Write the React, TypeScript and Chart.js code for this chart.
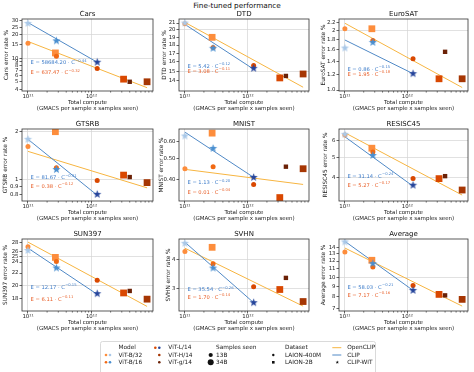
import React, { useEffect, useRef } from "react";
import { Chart, registerables } from "chart.js";
Chart.register(...registerables);

const FONT = '"DejaVu Sans", sans-serif';

// ---------------- data ----------------
const panelNames = ["Cars", "DTD", "EuroSAT", "GTSRB", "MNIST", "RESISC45", "SUN397", "SVHN", "Average"];

// OpenCLIP runs (order of points in every panel)
const openclipModels = ["ViT-B/32", "ViT-B/32", "ViT-B/16", "ViT-L/14", "ViT-L/14", "ViT-g/14", "ViT-H/14"];
const openclipDatasets = ["LAION-400M", "LAION-2B", "LAION-400M", "LAION-400M", "LAION-2B", "LAION-2B", "LAION-2B"];
const openclipSamples = ["13B", "34B", "13B", "13B", "34B", "13B", "34B"];
const openclipCompute = [1.0e11, 2.7e11, 2.8e11, 1.23e12, 3.2e12, 4.0e12, 7.5e12];
// CLIP-WIT runs
const clipModels = ["ViT-B/32", "ViT-B/16", "ViT-L/14"];
const clipCompute = [1.0e11, 2.8e11, 1.23e12];

const carsOpenclip = [15.6, 11.7, 10.6, 7.4, 5.4, 5.0, 5.0];
const carsClip = [28, 16.7, 8.9];
const dtdOpenclip = [20.9, 19.0, 17.7, 15.6, 14.3, 14.5, 14.7];
const dtdClip = [21.0, 17.6, 15.3];
const eurosatOpenclip = [2.04, 2.04, 1.78, 1.44, 1.14, 1.56, 1.14];
const eurosatClip = [1.63, 1.74, 1.21];
const gtsrbOpenclip = [1.61, 2.0, 1.18, 0.98, 1.06, 1.03, 0.95];
const gtsrbClip = [1.79, 1.15, 0.8];
const mnistOpenclip = [0.45, 0.66, 0.46, 0.38, 0.33, 0.46, 0.45];
const mnistClip = [0.64, 0.56, 0.41];
const resiscOpenclip = [6.4, 5.53, 5.3, 3.94, 3.94, 4.05, 3.47];
const resiscClip = [6.46, 5.1, 3.66];
const sunOpenclip = [27.1, 24.9, 24.1, 20.8, 18.8, 19.1, 17.9];
const sunClip = [26.3, 22.9, 18.7];
const svhnOpenclip = [4.35, 4.54, 3.84, 3.04, 2.96, 3.33, 2.62];
const svhnClip = [4.73, 3.68, 2.59];
const avgOpenclip = [13.3, 12.1, 11.2, 9.1, 8.22, 8.13, 7.77];
const avgClip = [14.9, 11.65, 8.6];

const openclipErrors = [carsOpenclip, dtdOpenclip, eurosatOpenclip, gtsrbOpenclip, mnistOpenclip, resiscOpenclip, sunOpenclip, svhnOpenclip, avgOpenclip];
const clipErrors = [carsClip, dtdClip, eurosatClip, gtsrbClip, mnistClip, resiscClip, sunClip, svhnClip, avgClip];

// fitted power laws, read at the two ends of each fitted line
const fitComputeOpenclip = [1.0e11, 7.5e12];
const fitComputeClip = [1.0e11, 1.23e12];
const openclipFit = [[16.4, 4.2], [21.1, 13.4], [2.175, 1.03], [1.5, 0.88], [0.447, 0.38], [6.57, 3.28], [28.1, 16.9], [4.5, 2.5], [13.9, 7.2]];
const clipFit = [[28.6, 8.9], [20.8, 15.2], [1.79, 1.21], [1.79, 0.79], [0.667, 0.41], [6.28, 3.62], [26.8, 18.6], [4.78, 2.59], [15.0, 8.6]];

const clipEquations = [
  ["E = 58684.20 · C", "−0.44"], ["E = 5.42 · C", "−0.12"], ["E = 0.86 · C", "−0.15"],
  ["E = 81.67 · C", "−0.31"], ["E = 1.13 · C", "−0.20"], ["E = 31.14 · C", "−0.24"],
  ["E = 12.17 · C", "−0.15"], ["E = 35.54 · C", "−0.26"], ["E = 58.03 · C", "−0.21"],
];
const openclipEquations = [
  ["E = 637.47 · C", "−0.32"], ["E = 3.08 · C", "−0.11"], ["E = 1.95 · C", "−0.18"],
  ["E = 0.38 · C", "−0.12"], ["E = 0.01 · C", "−0.04"], ["E = 5.27 · C", "−0.17"],
  ["E = 6.11 · C", "−0.11"], ["E = 1.70 · C", "−0.14"], ["E = 7.17 · C", "−0.16"],
];

// axes
const yRanges = [[3.81, 31.8], [13.05, 21.6], [0.989, 2.285], [0.726, 2.08], [0.318, 0.69], [3.07, 6.85], [16.3, 28.8], [2.38, 4.94], [6.81, 15.4]];
const yTickValues = [
  [4, 5, 6, 7, 8, 9, 10, 15, 20, 25, 30],
  [14, 15, 16, 17, 18, 19, 20, 21],
  [1.0, 1.2, 1.4, 1.6, 1.8, 2, 2.2],
  [0.8, 0.9, 1, 2],
  [0.4, 0.5, 0.6],
  [4, 5, 6],
  [18, 20, 22, 24, 25, 26, 28],
  [3, 4],
  [7, 8, 9, 10, 11, 12, 13, 14],
];
const yTickLabels = [
  ["4", "5", "6", "7", "8", "9", "10", "15", "20", "25", "30"],
  ["14", "15", "16", "17", "18", "19", "20", "21"],
  ["1.0", "1.2", "1.4", "1.6", "1.8", "2", "2.2"],
  ["0.8", "0.9", "1", "2"],
  ["0.40", "0.50", "0.60"],
  ["4", "5", "6"],
  ["18", "20", "22", "24", "25", "26", "28"],
  ["3", "4"],
  ["7", "8", "9", "10", "11", "12", "13", "14"],
];
const yGridValues = [[10, 20], [15, 20], [1, 2], [1, 2], [], [4, 5, 6], [20, 25], [3, 4], [10]];
const xRange = [8.05e10, 9.3e12];
const xMajorTicks = [1e11, 1e12];
const xTickLabels = ["10¹¹", "10¹²"];
const xMinorTicks = [2e11, 3e11, 4e11, 5e11, 6e11, 7e11, 8e11, 9e11, 2e12, 3e12, 4e12, 5e12, 6e12, 7e12, 8e12, 9e12];

// legend
const legendColumns = [
  ["Model", "ViT-B/32", "ViT-B/16"],
  ["ViT-L/14", "ViT-H/14", "ViT-g/14"],
  ["Samples seen", "13B", "34B"],
  ["Dataset", "LAION-400M", "LAION-2B"],
  ["OpenCLIP", "CLIP", "CLIP-WIT"],
];

// ---------------- styles ----------------
const openclipColor: Record<string, string> = {
  "ViT-B/32": "#fd8d3c", "ViT-B/16": "#f16913", "ViT-L/14": "#d94801", "ViT-H/14": "#a63603", "ViT-g/14": "#6b2106",
};
const clipColor: Record<string, string> = { "ViT-B/32": "#a9c8e8", "ViT-B/16": "#4a8fd0", "ViT-L/14": "#26459b" };
const OPENCLIP_LINE = "#f7b541";
const CLIP_LINE = "#5089c6";
const OPENCLIP_TEXT = "#e8602a";
const CLIP_TEXT = "#3d7cc9";
const GRID = "#d4d4d4";
const INK = "#222";

const boxLeft = [22, 179, 339];
const boxRight = [154, 310, 469];
const boxTop = [19, 129, 239];
const BOX_H = 72;
const yTitleX = [6, 164, 323, 5, 161, 325, 5, 168, 323];
const eqY = [[0.61, 0.75], [0.66, 0.73], [0.70, 0.77], [0.68, 0.80], [0.75, 0.88], [0.66, 0.78], [0.67, 0.84], [0.71, 0.81], [0.67, 0.78]];
const TOP_PAD = 16;
const RIGHT_PAD = 4;
const X_AXIS_H = 21;
const TICK_FONT = 5.4;

function markerRadius(ds: string, samples: string) {
  if (ds === "LAION-2B") return samples === "34B" ? 4.8 : 3.1;
  return 2.5;
}

function makeStar(color: string, r: number) {
  const c = document.createElement("canvas");
  const s = Math.ceil(r * 2 + 2);
  c.width = s;
  c.height = s;
  const g = c.getContext("2d")!;
  g.beginPath();
  for (let i = 0; i < 10; i++) {
    const a = -Math.PI / 2 + (i * Math.PI) / 5;
    const rr = i % 2 === 0 ? r : r * 0.42;
    g.lineTo(s / 2 + rr * Math.cos(a), s / 2 + rr * Math.sin(a));
  }
  g.closePath();
  g.fillStyle = color;
  g.fill();
  return c;
}

function drawStarPath(ctx: CanvasRenderingContext2D, x: number, y: number, r: number) {
  ctx.beginPath();
  for (let i = 0; i < 10; i++) {
    const a = -Math.PI / 2 + (i * Math.PI) / 5;
    const rr = i % 2 === 0 ? r : r * 0.42;
    ctx.lineTo(x + rr * Math.cos(a), y + rr * Math.sin(a));
  }
  ctx.closePath();
}

function drawEq(ctx: CanvasRenderingContext2D, x: number, y: number, eq: string[], color: string) {
  const size = 5.2;
  ctx.fillStyle = color;
  ctx.textBaseline = "middle";
  ctx.textAlign = "left";
  ctx.font = `${size}px ${FONT}`;
  ctx.fillText(eq[0], x, y);
  const w = ctx.measureText(eq[0]).width;
  ctx.font = `${size * 0.72}px ${FONT}`;
  ctx.fillText(eq[1], x + w + 0.3, y - size * 0.42);
}

const panelDeco = {
  id: "panelDeco",
  afterDatasetsDraw(chart: any, _args: any, opts: any) {
    const { ctx, chartArea: a } = chart;
    const xs = chart.scales.x;
    ctx.save();
    ctx.strokeStyle = INK;
    ctx.lineWidth = 0.6;
    ctx.beginPath();
    for (const v of xMinorTicks) {
      const px = xs.getPixelForValue(v);
      if (px > a.left + 0.5 && px < a.right - 0.5) {
        ctx.moveTo(px, a.bottom);
        ctx.lineTo(px, a.bottom + 1.6);
      }
    }
    ctx.stroke();
    ctx.lineWidth = 0.8;
    ctx.strokeStyle = "#333";
    ctx.strokeRect(a.left, a.top, a.right - a.left, a.bottom - a.top);
    ctx.restore();
  },
  afterDraw(chart: any, _args: any, opts: any) {
    const { ctx, chartArea: a } = chart;
    ctx.save();
    ctx.fillStyle = "#111";
    ctx.font = `7px ${FONT}`;
    ctx.textAlign = "center";
    ctx.textBaseline = "middle";
    ctx.fillText(opts.title, (a.left + a.right) / 2, a.top - 4.5);
    const w = a.right - a.left;
    const h = a.bottom - a.top;
    drawEq(ctx, a.left + 0.065 * w, a.top + opts.eqY[0] * h, opts.clipEq, CLIP_TEXT);
    drawEq(ctx, a.left + 0.065 * w, a.top + opts.eqY[1] * h, opts.openclipEq, OPENCLIP_TEXT);
    ctx.restore();
  },
};

function Panel({ i }: { i: number }) {
  const ref = useRef<HTMLCanvasElement>(null);
  const col = i % 3;
  const row = Math.floor(i / 3);
  const bl = boxLeft[col];
  const br = boxRight[col];
  const bt = boxTop[row];
  const bb = bt + BOX_H;
  const cl = Math.round(yTitleX[i] - 3.5);
  const ct = bt - TOP_PAD;
  const w = br + RIGHT_PAD - cl;
  const h = bb + X_AXIS_H - ct;
  const yw = bl - cl;

  useEffect(() => {
    const canvas = ref.current!;
    const stars = clipModels.map((m) => makeStar(clipColor[m], 4.3));
    const gridVals = yGridValues[i];
    const tickVals = yTickValues[i];
    const tickLabels = yTickLabels[i];
    const chart = new Chart(canvas, {
      type: "scatter",
      data: {
        datasets: [
          {
            label: "CLIP",
            data: clipCompute.map((x, k) => ({ x, y: clipErrors[i][k] })),
            pointStyle: stars as any,
            pointRadius: 4,
            order: 0,
          } as any,
          {
            label: "OpenCLIP",
            data: openclipCompute.map((x, k) => ({ x, y: openclipErrors[i][k] })),
            pointStyle: openclipDatasets.map((d) => (d === "LAION-2B" ? "rect" : "circle")) as any,
            pointRadius: openclipDatasets.map((d, k) => markerRadius(d, openclipSamples[k])),
            backgroundColor: openclipModels.map((m) => openclipColor[m]),
            borderWidth: 0,
            order: 1,
          } as any,
          {
            label: "CLIP fit",
            data: fitComputeClip.map((x, k) => ({ x, y: clipFit[i][k] })),
            showLine: true,
            borderColor: CLIP_LINE,
            borderWidth: 1,
            pointRadius: 0,
            order: 2,
          } as any,
          {
            label: "OpenCLIP fit",
            data: fitComputeOpenclip.map((x, k) => ({ x, y: openclipFit[i][k] })),
            showLine: true,
            borderColor: OPENCLIP_LINE,
            borderWidth: 1,
            pointRadius: 0,
            order: 3,
          } as any,
        ],
      },
      options: {
        responsive: false,
        animation: false,
        events: [],
        layout: { padding: { top: TOP_PAD, right: RIGHT_PAD, left: 0, bottom: 0 } },
        plugins: {
          legend: { display: false },
          tooltip: { enabled: false },
          title: { display: false },
          panelDeco: {
            title: panelNames[i],
            eqY: eqY[i],
            clipEq: clipEquations[i],
            openclipEq: openclipEquations[i],
          },
        } as any,
        scales: {
          x: {
            type: "logarithmic",
            min: xRange[0],
            max: xRange[1],
            bounds: "data",
            afterBuildTicks: (s: any) => {
              s.ticks = xMajorTicks.map((v) => ({ value: v }));
            },
            afterFit: (s: any) => {
              s.height = X_AXIS_H;
            },
            ticks: {
              autoSkip: false,
              maxRotation: 0,
              minRotation: 0,
              padding: 0,
              color: INK,
              font: { family: FONT, size: TICK_FONT },
              callback: (_v: any, idx: number) => xTickLabels[idx],
            },
            grid: {
              color: GRID,
              lineWidth: 0.7,
              tickColor: INK,
              tickLength: 2.5,
              drawTicks: true,
            },
            border: { display: false },
            title: {
              display: true,
              text: ["Total compute", "(GMACS per sample x samples seen)"],
              color: INK,
              font: { family: FONT, size: 5.5, lineHeight: 1.15 },
              padding: { top: 0, bottom: 0 },
            },
          },
          y: {
            type: "logarithmic",
            min: yRanges[i][0],
            max: yRanges[i][1],
            bounds: "data",
            afterBuildTicks: (s: any) => {
              s.ticks = tickVals.map((v) => ({ value: v }));
            },
            afterFit: (s: any) => {
              s.width = yw;
            },
            ticks: {
              autoSkip: false,
              padding: 1,
              color: INK,
              font: { family: FONT, size: TICK_FONT },
              callback: (_v: any, idx: number) => tickLabels[idx],
            },
            grid: {
              color: (c: any) =>
                c.tick && gridVals.some((g) => Math.abs(g - c.tick.value) < 1e-9) ? GRID : "rgba(0,0,0,0)",
              lineWidth: 0.7,
              tickColor: INK,
              tickLength: 2.5,
              drawTicks: true,
            },
            border: { display: false },
            title: {
              display: true,
              text: `${panelNames[i]} error rate %`,
              color: INK,
              font: { family: FONT, size: 5.8, lineHeight: 1.2 },
              padding: { top: 0, bottom: 0 },
            },
          },
        },
      } as any,
      plugins: [panelDeco as any],
    });
    return () => chart.destroy();
  }, [i]);

  return (
    <canvas
      ref={ref}
      width={w}
      height={h}
      style={{ position: "absolute", left: cl, top: ct, width: w, height: h }}
    />
  );
}

const LEG_LEFT = 100;
const LEG_TOP = 341;
const LEG_W = 276;
const LEG_H = 31;
const legendTextX = [118.5, 168.3, 216, 285, 347.3];
const legendRowY = [347.7, 355, 362.3];

const legendDeco = {
  id: "legendDeco",
  afterDraw(chart: any) {
    const ctx: CanvasRenderingContext2D = chart.ctx;
    const X = (px: number) => px - LEG_LEFT;
    const Y = (py: number) => py - LEG_TOP;
    ctx.save();
    // frame
    ctx.fillStyle = "rgba(255,255,255,0.9)";
    ctx.strokeStyle = "#d0d0d0";
    ctx.lineWidth = 0.8;
    ctx.beginPath();
    (ctx as any).roundRect(0.5, 0.5, LEG_W - 1, LEG_H + 4, 2);
    ctx.fill();
    ctx.stroke();
    // texts
    ctx.fillStyle = INK;
    ctx.font = `5.8px ${FONT}`;
    ctx.textAlign = "left";
    ctx.textBaseline = "middle";
    legendColumns.forEach((colItems, c) => {
      colItems.forEach((t, r) => ctx.fillText(t, X(legendTextX[c]), Y(legendRowY[r])));
    });
    const dot = (x: number, y: number, r: number, color: string) => {
      ctx.fillStyle = color;
      ctx.beginPath();
      ctx.arc(X(x), Y(y), r, 0, Math.PI * 2);
      ctx.fill();
    };
    // model handles
    dot(106, legendRowY[1], 1.3, openclipColor["ViT-B/32"]);
    dot(110, legendRowY[1], 1.3, clipColor["ViT-B/32"]);
    dot(106, legendRowY[2], 1.3, openclipColor["ViT-B/16"]);
    dot(110, legendRowY[2], 1.3, clipColor["ViT-B/16"]);
    dot(155.3, legendRowY[0], 1.3, openclipColor["ViT-L/14"]);
    dot(159.3, legendRowY[0], 1.3, clipColor["ViT-L/14"]);
    dot(159.3, legendRowY[1], 1.3, openclipColor["ViT-H/14"]);
    dot(159.3, legendRowY[2], 1.3, openclipColor["ViT-g/14"]);
    // sample sizes
    dot(210.7, legendRowY[1], 2.1, "#111");
    dot(210.7, legendRowY[2], 3.0, "#111");
    // datasets
    dot(273.3, legendRowY[1], 1.2, "#111");
    ctx.fillStyle = "#111";
    ctx.fillRect(X(273.3) - 1.3, Y(legendRowY[2]) - 1.3, 2.6, 2.6);
    // lines
    ctx.lineWidth = 1;
    ctx.strokeStyle = OPENCLIP_LINE;
    ctx.beginPath();
    ctx.moveTo(X(332.3), Y(legendRowY[0]));
    ctx.lineTo(X(341.3), Y(legendRowY[0]));
    ctx.stroke();
    ctx.strokeStyle = CLIP_LINE;
    ctx.beginPath();
    ctx.moveTo(X(332.3), Y(legendRowY[1]));
    ctx.lineTo(X(341.3), Y(legendRowY[1]));
    ctx.stroke();
    ctx.fillStyle = "#111";
    drawStarPath(ctx, X(337.3), Y(legendRowY[2]), 1.8);
    ctx.fill();
    ctx.restore();
  },
};

function Legend() {
  const ref = useRef<HTMLCanvasElement>(null);
  useEffect(() => {
    const chart = new Chart(ref.current!, {
      type: "scatter",
      data: { datasets: [] },
      options: {
        responsive: false,
        animation: false,
        events: [],
        plugins: { legend: { display: false }, tooltip: { enabled: false } },
        scales: { x: { display: false }, y: { display: false } },
      },
      plugins: [legendDeco as any],
    });
    return () => chart.destroy();
  }, []);
  return (
    <canvas
      ref={ref}
      width={LEG_W}
      height={LEG_H}
      style={{ position: "absolute", left: LEG_LEFT, top: LEG_TOP, width: LEG_W, height: LEG_H }}
    />
  );
}

export default function App() {
  return (
    <div
      style={{
        position: "absolute",
        left: 0,
        top: 0,
        width: 474,
        height: 372,
        background: "#fff",
        overflow: "hidden",
        fontFamily: FONT,
      }}
    >
      <div
        style={{
          position: "absolute",
          left: 0,
          top: 1,
          width: 474,
          textAlign: "center",
          fontSize: 7.3,
          lineHeight: "10px",
          color: "#111",
        }}
      >
        Fine-tuned performance
      </div>
      {panelNames.map((_, i) => (
        <Panel key={i} i={i} />
      ))}
      <Legend />
    </div>
  );
}
